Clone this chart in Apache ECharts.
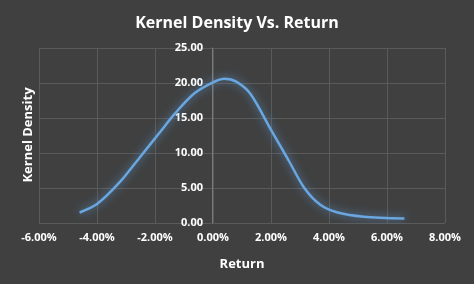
<!DOCTYPE html>
<html><head><meta charset="utf-8">
<script src="https://cdn.jsdelivr.net/npm/echarts@6/dist/echarts.min.js"></script>
<style>html,body{margin:0;padding:0;background:#404040;}#c{width:474px;height:284px;}</style>
</head><body><div id="c"></div>
<script>
const returns = [-4.6, -4.0, -3.2, -2.5, -1.9, -1.3, -0.65, 0.0, 0.4, 0.8, 1.3, 2.0, 2.6, 3.15, 3.7, 4.3, 5.2, 6.6];
const density = [1.5, 2.7, 5.9, 9.5, 12.6, 15.7, 18.5, 20.1, 20.6, 20.2, 18.4, 13.3, 9.0, 5.0, 2.6, 1.5, 0.9, 0.65];
const xTicks = {min: -6, max: 8, interval: 2};
const yTicks = {min: 0, max: 25, interval: 5};

const chart = echarts.init(document.getElementById('c'));
const font = '"Open Sans", "DejaVu Sans", sans-serif';
chart.setOption({
  backgroundColor: '#404040',
  animation: false,
  title: {text: 'Kernel Density Vs. Return', left: 'center', top: 10,
    textStyle: {color: '#ffffff', fontSize: 16, fontWeight: 'bold', fontFamily: font}},
  grid: {left: 39, right: 29, top: 48, bottom: 61},
  xAxis: {type: 'value', min: xTicks.min, max: xTicks.max, interval: xTicks.interval,
    name: 'Return', nameLocation: 'middle', nameGap: 35,
    nameTextStyle: {color: '#ffffff', fontSize: 13, fontWeight: 'bold', fontFamily: font},
    axisLine: {show: false}, axisTick: {show: false},
    splitLine: {show: true, lineStyle: {color: '#5a5a5a', width: 1}},
    axisLabel: {color: '#ffffff', fontSize: 11, fontWeight: 'bold', fontFamily: font, margin: 9,
      formatter: v => v.toFixed(2) + '%'}},
  yAxis: {type: 'value', min: yTicks.min, max: yTicks.max, interval: yTicks.interval,
    position: 'left', offset: -173,
    axisLine: {show: true, onZero: false, lineStyle: {color: '#7a7a7a', width: 1}}, axisTick: {show: false},
    splitLine: {show: true, lineStyle: {color: '#5a5a5a', width: 1}},
    axisLabel: {color: '#ffffff', fontSize: 11, fontWeight: 'bold', fontFamily: font, margin: 9,
      formatter: v => v.toFixed(2)}},
  graphic: [{type: 'text', x: 28, y: 135, rotation: Math.PI / 2,
    style: {text: 'Kernel Density', fill: '#ffffff', font: 'bold 13px ' + font, align: 'center', verticalAlign: 'middle'}}],
  series: [{type: 'line', smooth: 0.3, showSymbol: false,
    data: returns.map((r, i) => [r, density[i]]),
    lineStyle: {color: '#6aa6e0', width: 2.5, shadowColor: 'rgba(91,155,213,0.9)', shadowBlur: 8}}]
});
</script></body></html>
